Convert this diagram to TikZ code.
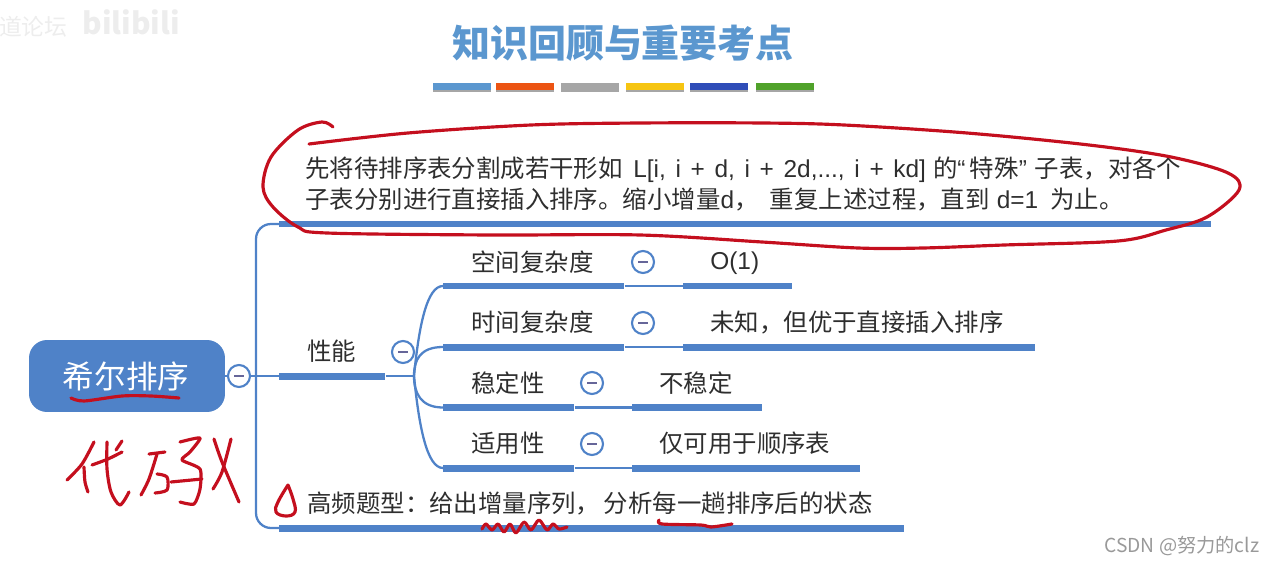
\documentclass[tikz,border=0pt]{standalone}
\usepackage{fontspec}
\usepackage{tikz}
\usetikzlibrary{shadows}
\setmainfont{Noto Sans CJK SC}
\newfontfamily\latinfont{Liberation Sans}
\definecolor{barblue}{HTML}{4F82C8}
\definecolor{titleblue}{HTML}{5B97CF}
\definecolor{inkred}{HTML}{C40F1E}
\tikzset{
bar/.style={fill=barblue,anchor=west,inner sep=0pt,minimum height=0.14cm},
rulebar/.style={inner sep=0pt,anchor=west,minimum width=1.16cm,minimum height=0.14cm,drop shadow={shadow xshift=0pt,shadow yshift=-0.8pt,opacity=.35,fill=black}},
link/.style={draw=barblue,line width=1.3pt},
lab/.style={anchor=west,inner sep=0pt,text=black!82,font=\fontsize{13.9}{16}\selectfont},
minusnode/.style={circle,draw=barblue,fill=white,line width=1.2pt,minimum size=0.44cm,inner sep=0pt,
  path picture={\draw[gray!80!blue,line width=1pt] (-0.1cm,0) -- (0.1cm,0);}},
ink/.style={draw=inkred,line width=1.8pt,line cap=round,line join=round}
}
\begin{document}
\begin{tikzpicture}[x=0.02cm,y=-0.02cm]
\useasboundingbox (0,0) rectangle (1274,564);
% top marks
\node[anchor=east,inner sep=0pt,text=black!7,font=\fontsize{13}{15}\selectfont] (w0) at (68,27) {道论坛};
\node[anchor=west,inner sep=0pt,text=black!7,font=\fontsize{17}{20}\bfseries] (w1) at (82,22) {bilibili};
\node[inner sep=0pt,text=titleblue,font=\fontsize{21.6}{24}\selectfont\bfseries] (t0) at (623,43) {知识回顾与重要考点};
\node[rulebar,fill=titleblue] (k0) at (433,87) {};
\node[rulebar,fill=orange!60!red!85!gray] (k1) at (496,87) {};
\node[rulebar,fill=black!35] (k2) at (561,87) {};
\node[rulebar,fill=yellow!60!orange!95!gray] (k3) at (626,87) {};
\node[rulebar,fill=barblue!70!blue!85!black] (k4) at (690,87) {};
\node[rulebar,fill=green!45!gray!75!lime!80!black] (k5) at (756,87) {};
% root
\node[rounded corners=0.36cm,fill=barblue,minimum width=3.92cm,minimum height=1.44cm,text=white,inner sep=0pt,font=\fontsize{18}{20}\selectfont] (r0) at (127,376) {\hspace{-1pt}希尔排序};
% bars
\node[bar,minimum width=18.64cm] (b0) at (279,224) {};
\node[bar,minimum width=2.12cm] (b1) at (279,376) {};
\node[bar,minimum width=12.5cm] (b2) at (279,528) {};
\node[bar,minimum width=3.62cm] (b3) at (443,286) {};
\node[bar,minimum width=2.18cm] (b4) at (683,286) {};
\node[bar,minimum width=3.62cm] (b5) at (443,347) {};
\node[bar,minimum width=7.04cm] (b6) at (683,347) {};
\node[bar,minimum width=2.62cm] (b7) at (443,407.5) {};
\node[bar,minimum width=2.6cm] (b8) at (632,407.5) {};
\node[bar,minimum width=2.62cm] (b9) at (443,468) {};
\node[bar,minimum width=4.56cm] (b10) at (632,468) {};
\coordinate (c0) at (256,376);
\coordinate (c1) at (414,376);
% links
\draw[link] (r0.east) -- (b1.west);
\draw[link,rounded corners=0.3cm] (b0.west) -| (c0) |- (b2.west);
\draw[link] (b1.east) -- (c1);
\draw[link] (c1) .. controls (419,325) and (427,286) .. (b3.west);
\draw[link] (c1) .. controls (414,360) and (420,347) .. (b5.west);
\draw[link] (c1) .. controls (414,392) and (420,407.5) .. (b7.west);
\draw[link] (c1) .. controls (419,427) and (427,468) .. (b9.west);
\draw[link] (b3.east) -- (b4.west);
\draw[link] (b5.east) -- (b6.west);
\draw[link] (b7.east) -- (b8.west);
\draw[link] (b9.east) -- (b10.west);
% minus buttons
\node[minusnode] (m0) at (239,376) {};
\node[minusnode] (m1) at (403,352) {};
\node[minusnode] (m2) at (643,262) {};
\node[minusnode] (m3) at (643,323) {};
\node[minusnode] (m4) at (592,383) {};
\node[minusnode] (m5) at (592,444) {};
% labels
\node[lab] (t1) at (305,170) {先将待排序表分割成若干形如\hspace{6pt}{\latinfont\spaceskip=5.5pt L[i, i + d, i + 2d,..., i + kd]}\hspace{4pt}的{\latinfont “}\hspace{2.5pt}特殊{\latinfont ”}\hspace{4.5pt}子表，对各个};
\node[lab] (t2) at (305,199) {子表分别进行直接插入排序。缩小增量{\latinfont d}，\hspace{6.5pt}重复上述过程，直到{\latinfont\hspace{4pt}d=1\hspace{7pt}}为止。};
\node[lab] (t3) at (471,262) {空间复杂度};
\node[lab] (t4) at (710,263) {\latinfont O(1)};
\node[lab] (t5) at (471,322) {时间复杂度};
\node[lab] (t6) at (710,322) {未知，但优于直接插入排序};
\node[lab] (t7) at (307,351) {性能};
\node[lab] (t8) at (471,383) {稳定性};
\node[lab] (t9) at (659,383) {不稳定};
\node[lab] (t10) at (471,443) {适用性};
\node[lab] (t11) at (659,443) {仅可用于顺序表};
\node[lab] (t12) at (307,503) {高频题型：给出增量序列，\hspace{2pt}分析每一趟排序后的状态};
\node[anchor=west,inner sep=0pt,text=black!40,font=\fontsize{10.95}{12}\selectfont] (w2) at (1104,546) {CSDN @努力的clz};
% pen strokes
\draw[ink] plot[smooth,tension=.55] coordinates {(309,144) (408,133) (531,125) (640,123) (762,123) (844,125) (967,133) (1089,145) (1171,157) (1228,173) (1239,190) (1207,217) (1166,230) (1118,241) (1004,245) (923,248) (858,248) (762,242) (640,235) (490,235) (327,233) (298,227) (273,207) (263,187) (271,157) (298,130) (322,122) (333,127)};
\draw[ink] plot[smooth] coordinates {(71,398) (84,401) (122,396) (151,396) (179,398)};
\draw[ink] plot[smooth,tension=.7] coordinates {(288,485) (278,502) (276,512) (286,516) (295,512) (293,499) (288,485)};
\draw[ink] plot[smooth,tension=.5] coordinates {(482,529) (486,524) (492,530) (498,524) (504,532) (510,524) (516,533) (524,522) (531,530) (539,520) (547,530) (553,524) (559,529) (567,527)};
\draw[ink] plot[smooth] coordinates {(659,520) (662,524) (701,525) (711,527) (732,524)};
% handwritten word
\draw[ink] plot[smooth] coordinates {(94,442) (82,464) (67,480)};
\draw[ink] plot[smooth] coordinates {(84,467) (85,482) (88,492)};
\draw[ink] plot[smooth] coordinates {(92,465) (108,459) (122,452)};
\draw[ink] plot[smooth] coordinates {(107,442) (107,469) (111,492) (120,505) (129,492)};
\draw[ink] (122,441) -- (116,450);
\draw[ink] (149,454) -- (165,452);
\draw[ink] plot[smooth] coordinates {(157,454) (149,479) (141,495)};
\draw[ink] plot[smooth] coordinates {(157,474) (167,477) (167,490) (155,493)};
\draw[ink] plot[smooth,tension=.4] coordinates {(180,442) (200,438) (190,452) (182,460) (200,469) (200,489) (194,504) (180,502)};
\draw[ink] (171,482) -- (202,479);
\draw[ink] plot[smooth] coordinates {(214,439) (222,462) (239,502)};
\draw[ink] plot[smooth] coordinates {(231,439) (222,472) (213,489)};
\end{tikzpicture}
\end{document}
